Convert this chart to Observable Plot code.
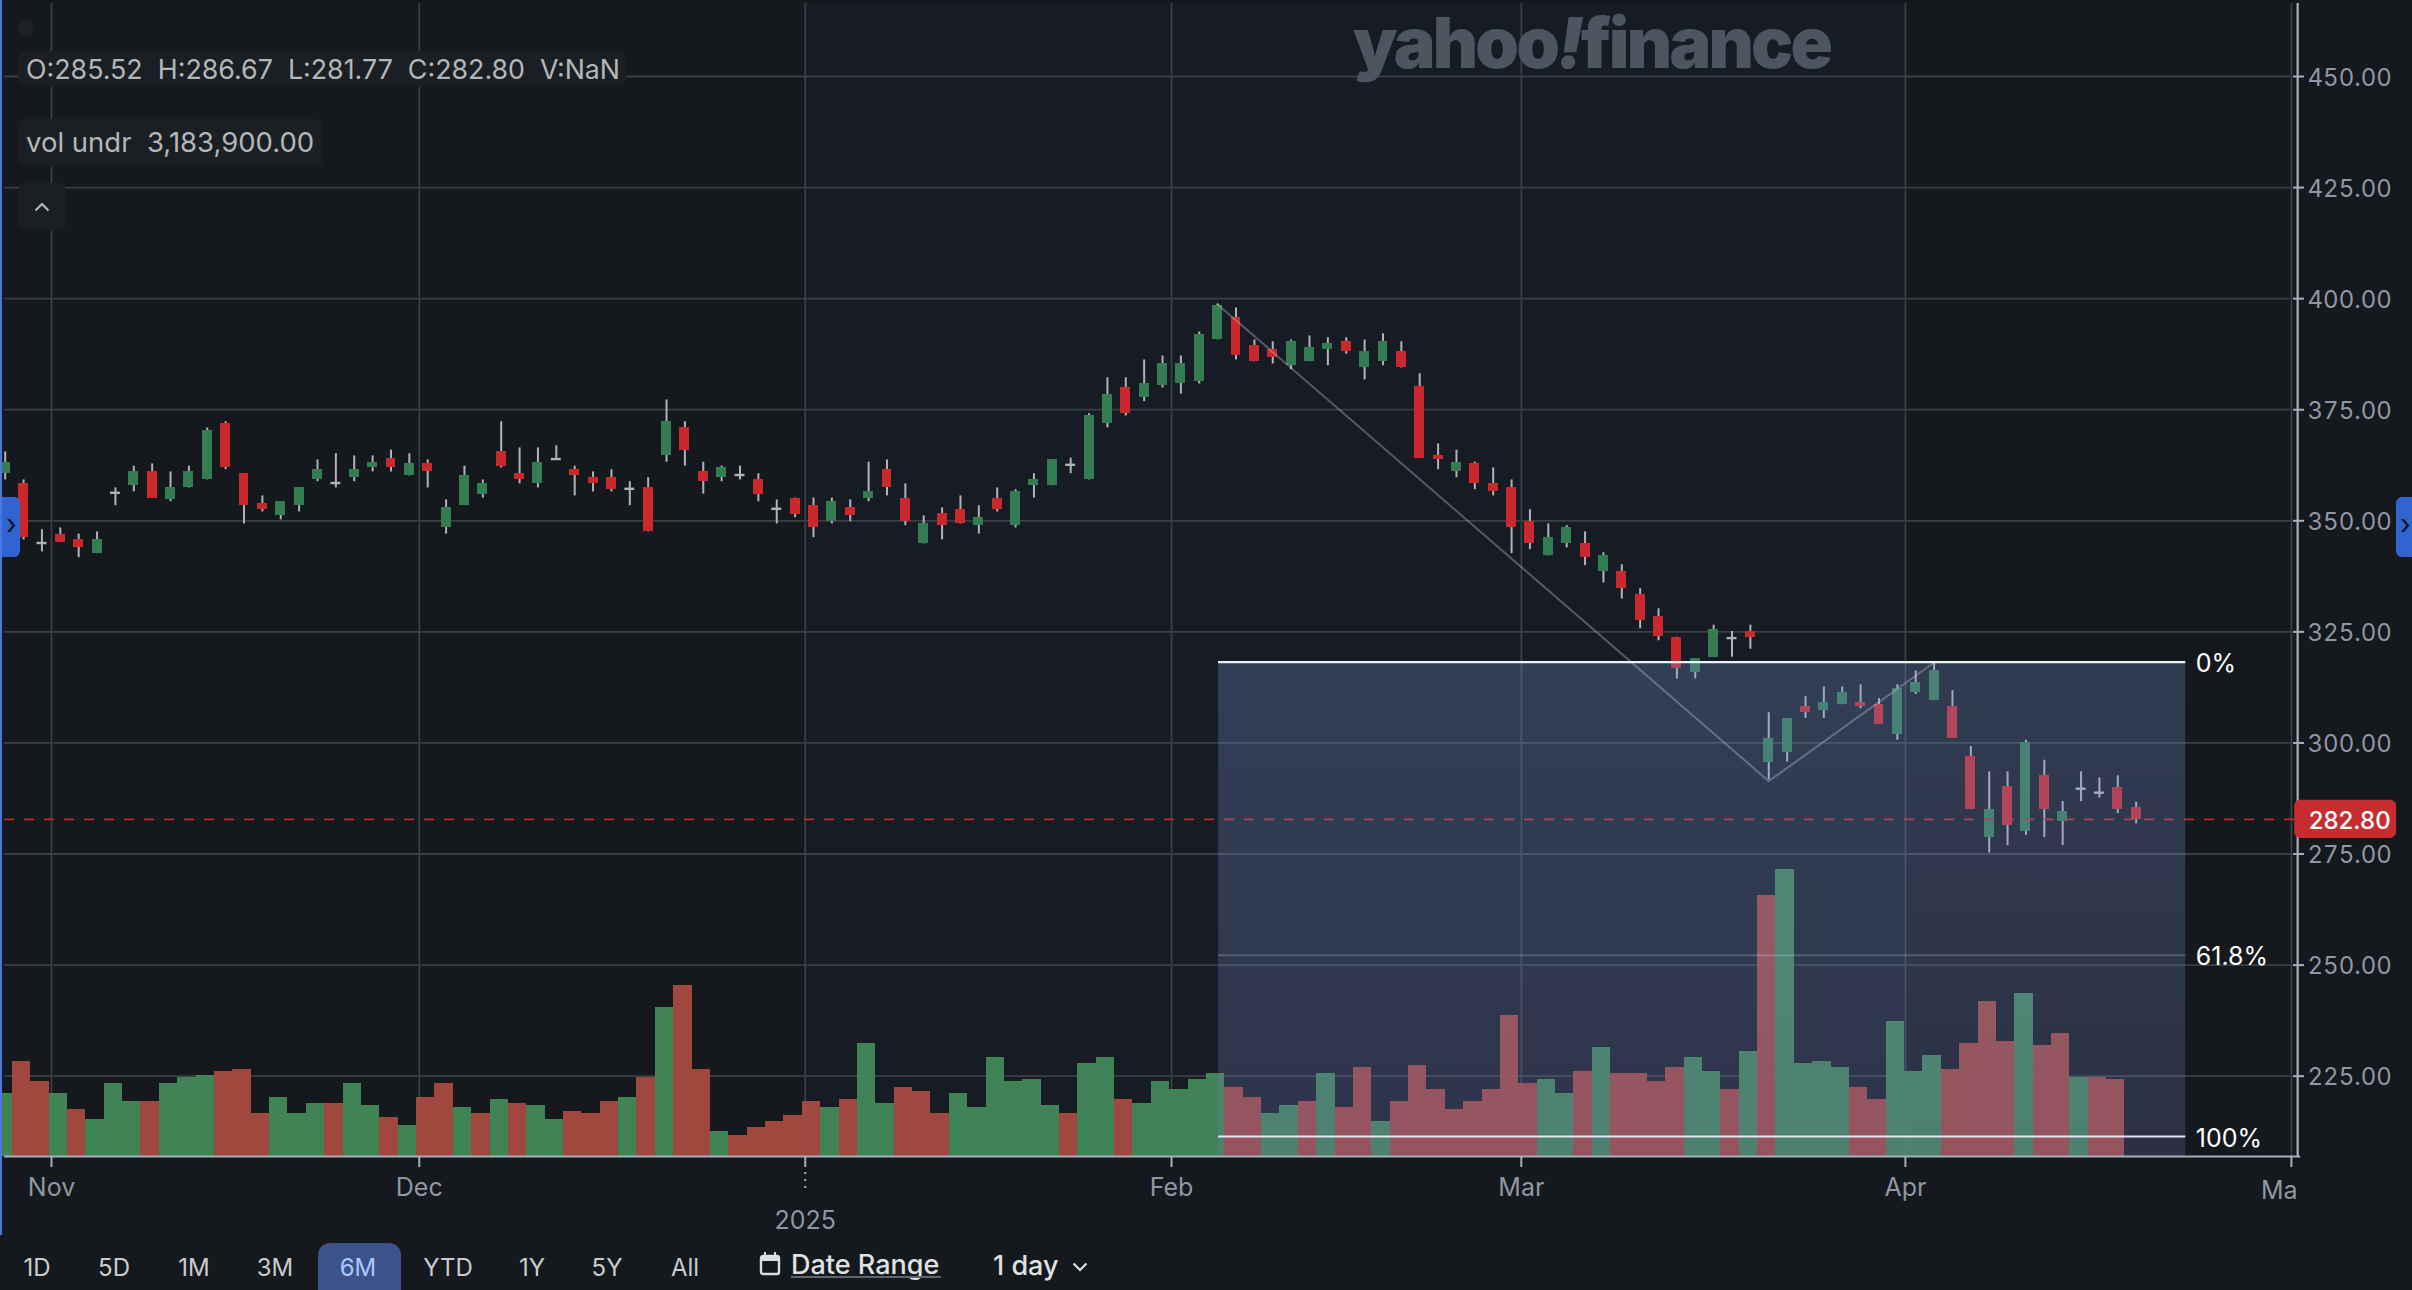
<!DOCTYPE html>
<html>
<head>
<meta charset="utf-8">
<script src="https://cdn.jsdelivr.net/npm/d3@7"></script>
<script src="https://cdn.jsdelivr.net/npm/@observablehq/plot@0.6"></script>
<style>
html,body{margin:0;padding:0;background:#15181c;width:2412px;height:1290px;overflow:hidden;font-family:Inter,sans-serif}
#stage{position:relative;width:2412px;height:1290px;overflow:hidden}
#chart{position:absolute;left:0;top:0}
.abs{position:absolute;white-space:pre;line-height:1}
.chip{background:#1b1f23;border-radius:8px;position:absolute}
.btn{position:absolute;top:1256px;font-size:24px;color:#c9cbce;transform:translateX(-50%);line-height:1;white-space:pre}
</style>
</head>
<body>
<div id="stage">
<div id="chart"></div>
</div>
<script>
const opens=[360.6,358.3,345.0,347.0,345.7,342.6,356.3,357.9,361.0,354.7,357.4,359.2,371.8,360.6,353.8,351.1,353.4,359.2,358.5,359.7,361.9,364.1,360.1,362.8,348.4,353.4,356.0,365.5,360.6,358.3,363.9,361.5,359.7,359.7,357.2,357.4,364.6,370.9,361.0,359.7,360.3,359.2,352.7,355.1,353.4,349.8,352.9,355.1,361.5,355.1,344.8,351.6,352.5,348.9,355.1,348.9,357.9,357.9,362.6,359.2,371.8,379.9,377.7,380.4,380.8,381.3,390.7,395.7,389.4,388.5,384.9,385.8,388.5,390.3,384.4,385.8,388.0,380.3,364.6,361.0,362.8,358.3,357.4,349.8,342.1,344.8,344.8,338.7,338.7,333.3,328.4,323.8,315.8,319.3,323.6,325.1,295.7,297.9,308.2,307.3,308.6,309.1,308.6,301.9,311.3,309.5,308.2,297.0,278.7,290.3,280.1,292.6,282.3,289.7,288.8,289.9,285.52];
const highs=[365.5,359.2,348.0,348.4,347.0,347.5,357.4,362.3,362.8,361.0,362.3,370.9,372.3,360.6,355.6,354.3,357.4,363.7,365.1,364.6,364.6,365.9,365.1,363.7,354.7,362.3,359.2,372.3,366.4,366.4,366.9,362.3,361.0,361.5,358.8,359.7,377.2,372.3,363.2,362.3,362.3,360.6,354.7,355.1,355.1,355.1,354.7,363.2,363.7,358.3,351.1,352.9,355.6,353.4,357.4,357.0,360.6,363.7,364.1,374.1,382.2,382.2,386.2,387.1,387.1,392.5,398.8,397.9,390.7,390.3,390.7,391.6,391.2,391.2,390.7,392.1,390.3,383.1,367.3,365.9,363.2,361.9,359.2,352.5,349.3,348.9,347.5,342.8,340.1,334.7,330.2,323.8,318.9,326.5,325.1,326.5,306.8,305.5,310.4,312.6,312.6,313.1,310.0,313.1,316.2,318.0,311.8,299.2,293.5,293.5,300.6,296.1,286.8,293.5,292.1,292.6,286.67];
const lows=[359.2,345.7,343.0,345.2,341.7,342.6,353.4,356.5,355.1,354.3,357.4,359.2,361.5,349.3,352.0,350.2,352.0,358.8,357.4,358.8,361.0,361.0,360.1,357.4,347.0,353.4,355.1,361.9,358.3,357.4,363.7,355.6,356.5,356.5,353.4,347.5,363.2,362.3,356.0,358.8,359.2,354.3,349.3,350.7,346.2,349.3,349.8,354.3,355.6,348.9,344.8,345.7,349.3,347.0,352.0,348.4,355.1,357.9,360.6,359.2,370.9,373.6,376.8,379.9,378.5,380.8,390.7,386.2,385.8,385.3,384.0,385.8,384.9,387.5,381.7,384.9,384.4,364.1,361.5,359.7,357.0,355.6,342.6,343.5,342.1,343.9,339.9,336.0,332.4,325.7,323.0,314.4,314.4,319.3,319.3,321.1,291.7,295.7,305.5,305.5,308.6,307.7,304.2,300.6,310.9,309.5,301.0,285.0,275.2,276.9,279.2,278.7,276.9,286.8,287.6,284.1,281.77];
const closes=[363.2,346.2,345.0,345.2,343.9,345.7,356.3,361.0,355.1,357.4,361.0,370.4,361.9,353.4,352.5,354.3,357.4,361.5,358.5,361.5,363.2,361.9,362.8,361.0,352.9,360.1,358.3,362.3,359.2,363.2,363.9,360.1,358.3,357.0,357.2,347.5,372.3,365.9,358.8,361.9,360.3,356.0,352.7,351.5,348.4,354.3,351.1,356.5,357.4,349.8,349.3,348.9,349.3,350.7,352.5,356.5,359.2,363.7,362.6,373.6,378.5,374.1,380.8,385.3,385.3,392.0,398.4,387.1,385.8,386.7,390.3,388.9,389.8,388.0,388.0,390.3,384.4,364.1,363.7,363.2,358.3,356.5,348.4,344.8,346.2,348.4,341.7,342.3,334.7,327.5,323.9,316.7,318.9,325.6,323.6,323.8,301.0,305.5,306.8,309.1,311.3,308.2,304.2,312.2,313.5,316.2,301.0,285.0,285.0,281.4,300.2,285.0,284.5,289.7,288.8,285.0,282.80];
const volumes=[2.61,3.93,3.10,2.61,1.94,1.53,3.02,2.27,2.27,3.02,3.27,3.35,3.51,3.60,1.78,2.44,1.78,2.19,2.19,3.02,2.11,1.61,1.28,2.44,3.02,2.03,1.78,2.36,2.19,2.11,1.53,1.86,1.78,2.27,2.44,3.27,6.16,7.07,3.60,1.03,0.87,1.20,1.45,1.70,2.27,2.03,2.36,4.67,2.19,2.85,2.69,1.78,2.61,2.03,4.09,3.10,3.18,2.11,1.78,3.85,4.09,2.36,2.19,3.10,2.77,3.18,3.43,2.85,2.44,1.78,2.11,2.27,3.43,2.03,3.68,1.45,2.27,3.76,2.77,1.94,2.27,2.77,5.83,3.02,3.18,2.61,3.51,4.51,3.43,3.43,3.10,3.68,4.09,3.51,2.77,4.34,10.79,11.87,3.85,3.93,3.68,2.85,2.36,5.58,3.51,4.18,3.60,4.67,6.41,4.76,6.74,4.59,5.09,3.27,3.27,3.1839];
const volumeDirs="GRRGRGGGRGGGRRRGGGRGGRGRRGRGRGGRRRGRGRRGRRRRRGRGGRRRGGGGGGRGGRGGGGGRRGGRGRRGRRRRRRRRGGRGRRRRGGRGRGGGGRRGGGRRRRGRRGRR";
const yTicks=[225,250,275,300,325,350,375,400,425,450];
const monthTicks=[2.52,22.54,43.55,63.49,82.53,103.44,124.45];
const monthLabels=["Nov","Dec","","Feb","Mar","Apr",""];
const fibLevels=[318.2,252.2,211.4];
const fibLabels=["0%","61.8%","100%"];
const swing=[{i:66,p:398.7},{i:96,p:291.4},{i:105,p:318.1}];
const lastPrice=282.80;
const rangeButtons=["1D","5D","1M","3M","6M","YTD","1Y","5Y","All"];
const rangeX=[37,114,194,275,358,448,532,607,685];

const xMin=-0.038, xMax=124.51, yMin=206.92, yMax=466.43;
const volFactor=5.443;
const idx=d3.range(opens.length);
const doji=i=>opens[i]===closes[i];
const up=i=>closes[i]>opens[i];
const RED="#c9282d", GREEN="#347c51", WICK="#b1b3b6", GRID="#3a3f44", AXIS="#a7afba", LABEL="#8e97a3";
const bw=0.27;
const jan=monthTicks[2], apr=monthTicks[5], fibL=66.05, fibR=118.7;
const one=[0];

function fibGradient(){
  const defs=d3.create("svg:defs");
  const g=defs.append("linearGradient").attr("id","fibFill").attr("x1",0).attr("y1",0).attr("x2",0).attr("y2",1);
  [[0,"rgb(119,146,211)",0.29],[0.55,"rgb(119,146,211)",0.25],[1,"rgb(117,120,188)",0.25]].forEach(([o,c,a])=>
    g.append("stop").attr("offset",o).attr("stop-color",c).attr("stop-opacity",a));
  return defs.node();
}

const chart=Plot.plot({
  width:2412,height:1240,
  marginTop:3,marginBottom:84,marginLeft:4,marginRight:120,
  x:{type:"linear",domain:[xMin,xMax],axis:null},
  y:{type:"linear",domain:[yMin,yMax],axis:null},
  style:{background:"transparent",fontFamily:"Inter, sans-serif",overflow:"visible"},
  marks:[
    fibGradient,
    Plot.rect(one,{x1:()=>jan,x2:()=>apr,y1:()=>yMin,y2:()=>yMax,fill:"#171c24"}),
    Plot.gridY(yTicks,{stroke:GRID,strokeOpacity:1,strokeWidth:1.8}),
    Plot.gridX(monthTicks,{stroke:GRID,strokeOpacity:1,strokeWidth:1.8}),
    Plot.rect(volumes.map((v,i)=>i),{
      x1:i=>i===0?xMin:i-0.5,x2:i=>i+0.5,y1:()=>yMin,y2:i=>yMin+volumes[i]*volFactor,dx:-2,
      shapeRendering:"crispEdges",
      fill:i=>volumeDirs[i]==="G"?"#458f5c":"#af4d43",fillOpacity:0.9}),
    Plot.ruleX(idx,{x:i=>i,y1:i=>lows[i],y2:i=>highs[i],stroke:WICK,strokeWidth:2}),
    Plot.rect(idx.filter(i=>!doji(i)),{
      x1:i=>i-bw,x2:i=>i+bw,y1:i=>opens[i],y2:i=>closes[i],shapeRendering:"crispEdges",
      fill:i=>up(i)?GREEN:RED}),
    Plot.ruleY(idx.filter(doji),{x1:i=>i-bw,x2:i=>i+bw,y:i=>opens[i],stroke:WICK,strokeWidth:2.4}),
    Plot.ruleY([lastPrice],{x1:()=>xMin,x2:()=>xMax+0.25,stroke:"#c0282d",strokeWidth:1.8,strokeDasharray:"10,10"}),
    Plot.rect(one,{x1:()=>fibL,x2:()=>fibR,y1:()=>yMin,y2:()=>fibLevels[0],fill:"url(#fibFill)"}),
    Plot.line(swing,{x:"i",y:"p",stroke:"rgba(205,208,216,0.34)",strokeWidth:2}),
    Plot.ruleY([fibLevels[0]],{x1:()=>fibL,x2:()=>fibR,stroke:"#eef0f5",strokeWidth:2.4}),
    Plot.ruleY([fibLevels[1]],{x1:()=>fibL,x2:()=>fibR,stroke:"rgba(215,220,235,0.24)",strokeWidth:2}),
    Plot.ruleY([fibLevels[2]],{x1:()=>fibL,x2:()=>fibR,stroke:"#e4e7ef",strokeWidth:2}),
    Plot.text(fibLabels,{x:()=>fibR,y:(d,i)=>fibLevels[i],dx:10,dy:2,textAnchor:"start",fill:"#ffffff",fontSize:25}),
    Plot.ruleY([yMin],{x1:()=>xMin,x2:()=>124.95,stroke:AXIS,strokeWidth:2.2}),
    Plot.ruleX([124.79],{y1:()=>yMin,y2:()=>yMax,stroke:AXIS,strokeWidth:2.2}),
    Plot.axisX(monthTicks,{anchor:"bottom",label:null,tickSize:11,tickPadding:11,stroke:AXIS,strokeWidth:2,fill:LABEL,fontSize:25,
      tickFormat:d=>monthLabels[monthTicks.indexOf(d)]}),
    Plot.axisY(yTicks,{anchor:"right",label:null,tickSize:11,stroke:AXIS,strokeWidth:2,tickFormat:()=>""}),
    Plot.axisY(yTicks,{anchor:"right",label:null,tickSize:0,tickPadding:15,dy:1.5,fill:LABEL,fontSize:24,
      tickFormat:d=>d.toFixed(2)}),
    Plot.ruleX([jan],{y1:()=>203.3,y2:()=>198.8,stroke:AXIS,strokeWidth:2,strokeDasharray:"2,5"}),
    Plot.text(["2025"],{x:()=>jan,y:()=>192.5,fill:LABEL,fontSize:25}),
    Plot.text(["Ma"],{x:()=>124.79,y:()=>199.1,textAnchor:"end",fill:LABEL,fontSize:25}),
    Plot.rect(one,{x1:()=>124.63,x2:()=>130.18,y1:()=>lastPrice-4.28,y2:()=>lastPrice+4.28,fill:"#c62c30",r:6}),
    Plot.text([lastPrice.toFixed(2)],{x:()=>125.39,y:()=>lastPrice,dy:1.5,textAnchor:"start",fill:"#ffffff",fontSize:24,fontWeight:500})
  ]
});
document.getElementById("chart").appendChild(chart);

const stage=document.getElementById("stage");
function add(html,css,cls){const e=document.createElement("div");e.className=cls||"abs";e.style.cssText=css;e.innerHTML=html;stage.appendChild(e);return e;}
// side strip and handles
add("","left:0;top:0;width:2px;height:1235px;background:#4a78e0");
add("","left:2px;top:497px;width:18px;height:60px;background:#3264cf;border-radius:0 6px 6px 0");
add("›","left:6px;top:510px;font-size:28px;color:#10151f");
add("","left:2396px;top:497px;width:16px;height:60px;background:#3264cf;border-radius:6px 0 0 6px");
add("›","left:2400px;top:510px;font-size:28px;color:#10151f");
// legend chips
add("","left:18px;top:20px;width:16px;height:16px;border-radius:8px;background:#1d2226");
add("","left:18px;top:51px;width:608px;height:36px","chip");
add("O:285.52  H:286.67  L:281.77  C:282.80  V:NaN","left:26px;top:56px;font-size:26.8px;color:#b4b7b9");
add("","left:18px;top:119px;width:305px;height:48px","chip");
add("vol undr  3,183,900.00","left:26px;top:129px;font-size:27.5px;color:#b4b7b9");
add("","left:18px;top:183px;width:48px;height:48px","chip");
add('<svg width="16" height="10" viewBox="0 0 16 10"><path d="M1.5 8.5L8 2l6.5 6.5" fill="none" stroke="#b4b7b9" stroke-width="2.2"/></svg>',"left:34px;top:198px");
// logo
add('yahoo<i>!</i>finance',"left:1353px;top:8px;font-size:70px;font-weight:900;letter-spacing:-2.8px;color:#4b5661");
// range buttons
add("","left:318px;top:1243px;width:83px;height:60px;border-radius:12px;background:#3d5289");
rangeButtons.forEach((b,i)=>add(b,`left:${rangeX[i]}px;${b==="6M"?"color:#a8cbff":""}`,"btn"));
// date range and interval
add('<svg width="22" height="24" viewBox="0 0 22 24"><rect x="2" y="4" width="18" height="18" rx="2" fill="none" stroke="#dcdee0" stroke-width="2.4"/><path d="M2 7h18" stroke="#dcdee0" stroke-width="4"/><path d="M6 0v5M16 0v5" stroke="#dcdee0" stroke-width="2"/></svg>',"left:759px;top:1252px");
add("Date Range","left:791px;top:1251px;font-size:27px;font-weight:500;color:#dfe1e3");
add("","left:791px;top:1276px;width:150px;height:2px;background:#5b6570");
add("1 day","left:993px;top:1252px;font-size:27px;font-weight:500;color:#dfe1e3");
add('<svg width="16" height="10" viewBox="0 0 16 10"><path d="M1.5 1.5L8 8l6.5-6.5" fill="none" stroke="#dfe1e3" stroke-width="2.2"/></svg>',"left:1072px;top:1258px");
</script>
</body>
</html>
